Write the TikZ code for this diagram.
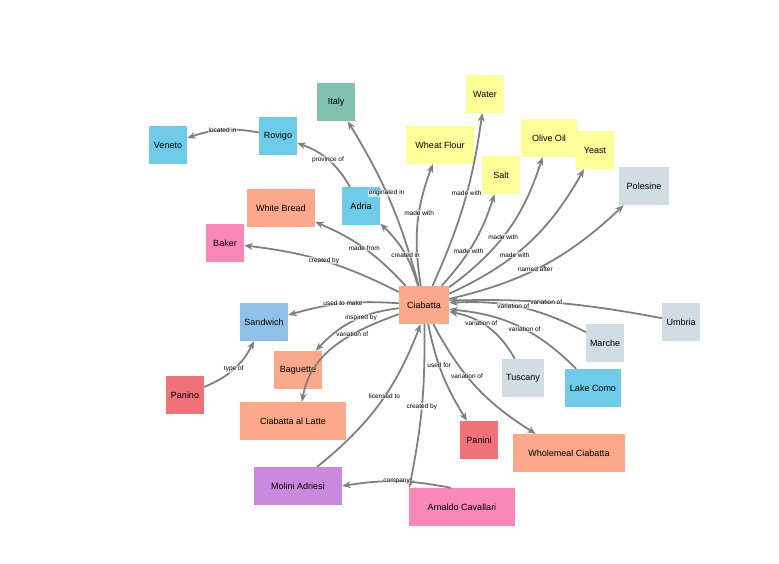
\documentclass[tikz,border=0pt]{standalone}
\usepackage{fontspec}
\setmainfont{Liberation Sans}
\usetikzlibrary{arrows.meta}
\definecolor{salmon}{HTML}{FCA88A}
\definecolor{teal}{HTML}{80C1B0}
\definecolor{lemon}{HTML}{FFFF99}
\definecolor{slate}{HTML}{D1DCE3}
\definecolor{sky}{HTML}{6ECBE9}
\definecolor{pinky}{HTML}{F888B6}
\definecolor{azure}{HTML}{8EC1E8}
\definecolor{rosso}{HTML}{F07279}
\definecolor{lilac}{HTML}{C98ADE}
\tikzset{>={Stealth[length=3mm,width=2.4mm]}}
\tikzset{concept/.style = {rectangle, minimum height=38pt, minimum width=38pt,
                  inner sep=2pt, font=\fontsize{9}{10}\selectfont},
        rel/.style = {->, draw=gray, line width=1.8pt},
        lbl/.style = {font=\fontsize{6.5}{7}\selectfont, inner sep=0.5pt, fill=white, fill opacity=0.6, text opacity=1}
    }
\begin{document}
\begin{tikzpicture}[x=1pt,y=-1pt]
    \useasboundingbox[fill=white] (0,0) rectangle (779,564);

    \node[concept, fill=salmon, minimum width=50pt] (ciab) at (424,305) {Ciabatta};
    \node[concept, fill=teal] (italy) at (336,102) {Italy};
    \node[concept, fill=lemon] (water) at (485,94) {Water};
    \node[concept, fill=lemon, minimum width=68pt] (flour) at (440,145) {Wheat Flour};
    \node[concept, fill=lemon, minimum width=56pt] (oil) at (549,138) {Olive Oil};
    \node[concept, fill=lemon] (yeast) at (595,150) {Yeast};
    \node[concept, fill=lemon] (salt) at (501,175) {Salt};
    \node[concept, fill=slate, minimum width=50pt] (pol) at (644,186) {Polesine};
    \node[concept, fill=sky] (veneto) at (168,145) {Veneto};
    \node[concept, fill=sky] (rovigo) at (278,136) {Rovigo};
    \node[concept, fill=sky] (adria) at (361,206) {Adria};
    \node[concept, fill=salmon, minimum width=68pt] (white) at (281,208) {White Bread};
    \node[concept, fill=pinky] (baker) at (225,243) {Baker};
    \node[concept, fill=azure, minimum width=48pt] (sand) at (264,322) {Sandwich};
    \node[concept, fill=salmon, minimum width=48pt] (bag) at (298,370) {Baguette};
    \node[concept, fill=rosso] (panino) at (185,395) {Panino};
    \node[concept, fill=salmon, minimum width=106pt] (latte) at (293,421) {Ciabatta al Latte};
    \node[concept, fill=lilac, minimum width=88pt] (molini) at (298,486) {Molini Adriesi};
    \node[concept, fill=pinky, minimum width=106pt] (arnaldo) at (462,507) {Arnaldo Cavallari};
    \node[concept, fill=rosso] (panini) at (479,440) {Panini};
    \node[concept, fill=salmon, minimum width=112pt] (whole) at (569,453) {Wholemeal Ciabatta};
    \node[concept, fill=slate, minimum width=42pt] (tusc) at (523,378) {Tuscany};
    \node[concept, fill=sky, minimum width=56pt] (como) at (593,388) {Lake Como};
    \node[concept, fill=slate] (marche) at (605,343) {Marche};
    \node[concept, fill=slate] (umbria) at (681,322) {Umbria};

    % outgoing relations
    \draw[rel] (ciab) to[bend right=8] node[lbl, pos=0.55] {originated in} (italy);
    \draw[rel] (ciab) to[bend left=15] node[lbl, pos=0.6] {made with} (flour);
    \draw[rel] (ciab) to[bend right=8] node[lbl, pos=0.55] {made with} (water);
    \draw[rel] (ciab) to[bend right=12] node[lbl, pos=0.4] {made with} (salt);
    \draw[rel] (ciab) to[bend right=18] node[lbl, pos=0.45] {made with} (oil);
    \draw[rel] (ciab) to[bend right=18] node[lbl, pos=0.4] {made with} (yeast);
    \draw[rel] (ciab) to[bend right=15] node[lbl, pos=0.45] {named after} (pol);
    \draw[rel] (ciab) to[bend right=15] node[lbl, pos=0.45] {created in} (adria);
    \draw[rel] (ciab) to[bend right=12] node[lbl, pos=0.5] {made from} (white);
    \draw[rel] (ciab) to[bend right=10] node[lbl, pos=0.5] {created by} (baker);
    \draw[rel] (ciab) to[bend right=10] node[lbl, pos=0.5] {used to make} (sand);
    \draw[rel] (ciab) to[bend right=20] node[lbl, pos=0.4] {inspired by} (bag);
    \draw[rel] (ciab) to[out=200, in=80] node[lbl, pos=0.35] {variation of} (latte.65);
    \draw[rel] (ciab) to[bend right=10] node[lbl, pos=0.4] {used for} (panini);
    \draw[rel] (ciab) to[bend left=6] node[lbl, pos=0.5] {created by} (arnaldo.160);
    \draw[rel] (ciab) to[bend right=15] node[lbl, pos=0.4] {variation of} (whole.150);

    % incoming relations
    \draw[rel] (adria) to[bend right=20] node[lbl, pos=0.5] {province of} (rovigo);
    \draw[rel] (rovigo) to[bend right=15] node[lbl, pos=0.5] {located in} (veneto);
    \draw[rel] (panino) to[bend right=20] node[lbl, pos=0.5] {type of} (sand);
    \draw[rel] (molini.45) to[bend right=15] node[lbl, pos=0.55] {licensed to} (ciab.260);
    \draw[rel] (arnaldo.120) to[bend right=10] node[lbl, pos=0.5] {company} (molini.east);
    \draw[rel] (tusc) to[bend right=25] node[lbl, pos=0.6] {variation of} (ciab.-15);
    \draw[rel] (como) to[bend right=20] node[lbl, pos=0.45] {variation of} (ciab.-10);
    \draw[rel] (marche) to[bend right=15] node[lbl, pos=0.55] {variation of} (ciab.5);
    \draw[rel] (umbria) to[bend right=6] node[lbl, pos=0.55] {variation of} (ciab.10);
\end{tikzpicture}
\end{document}
